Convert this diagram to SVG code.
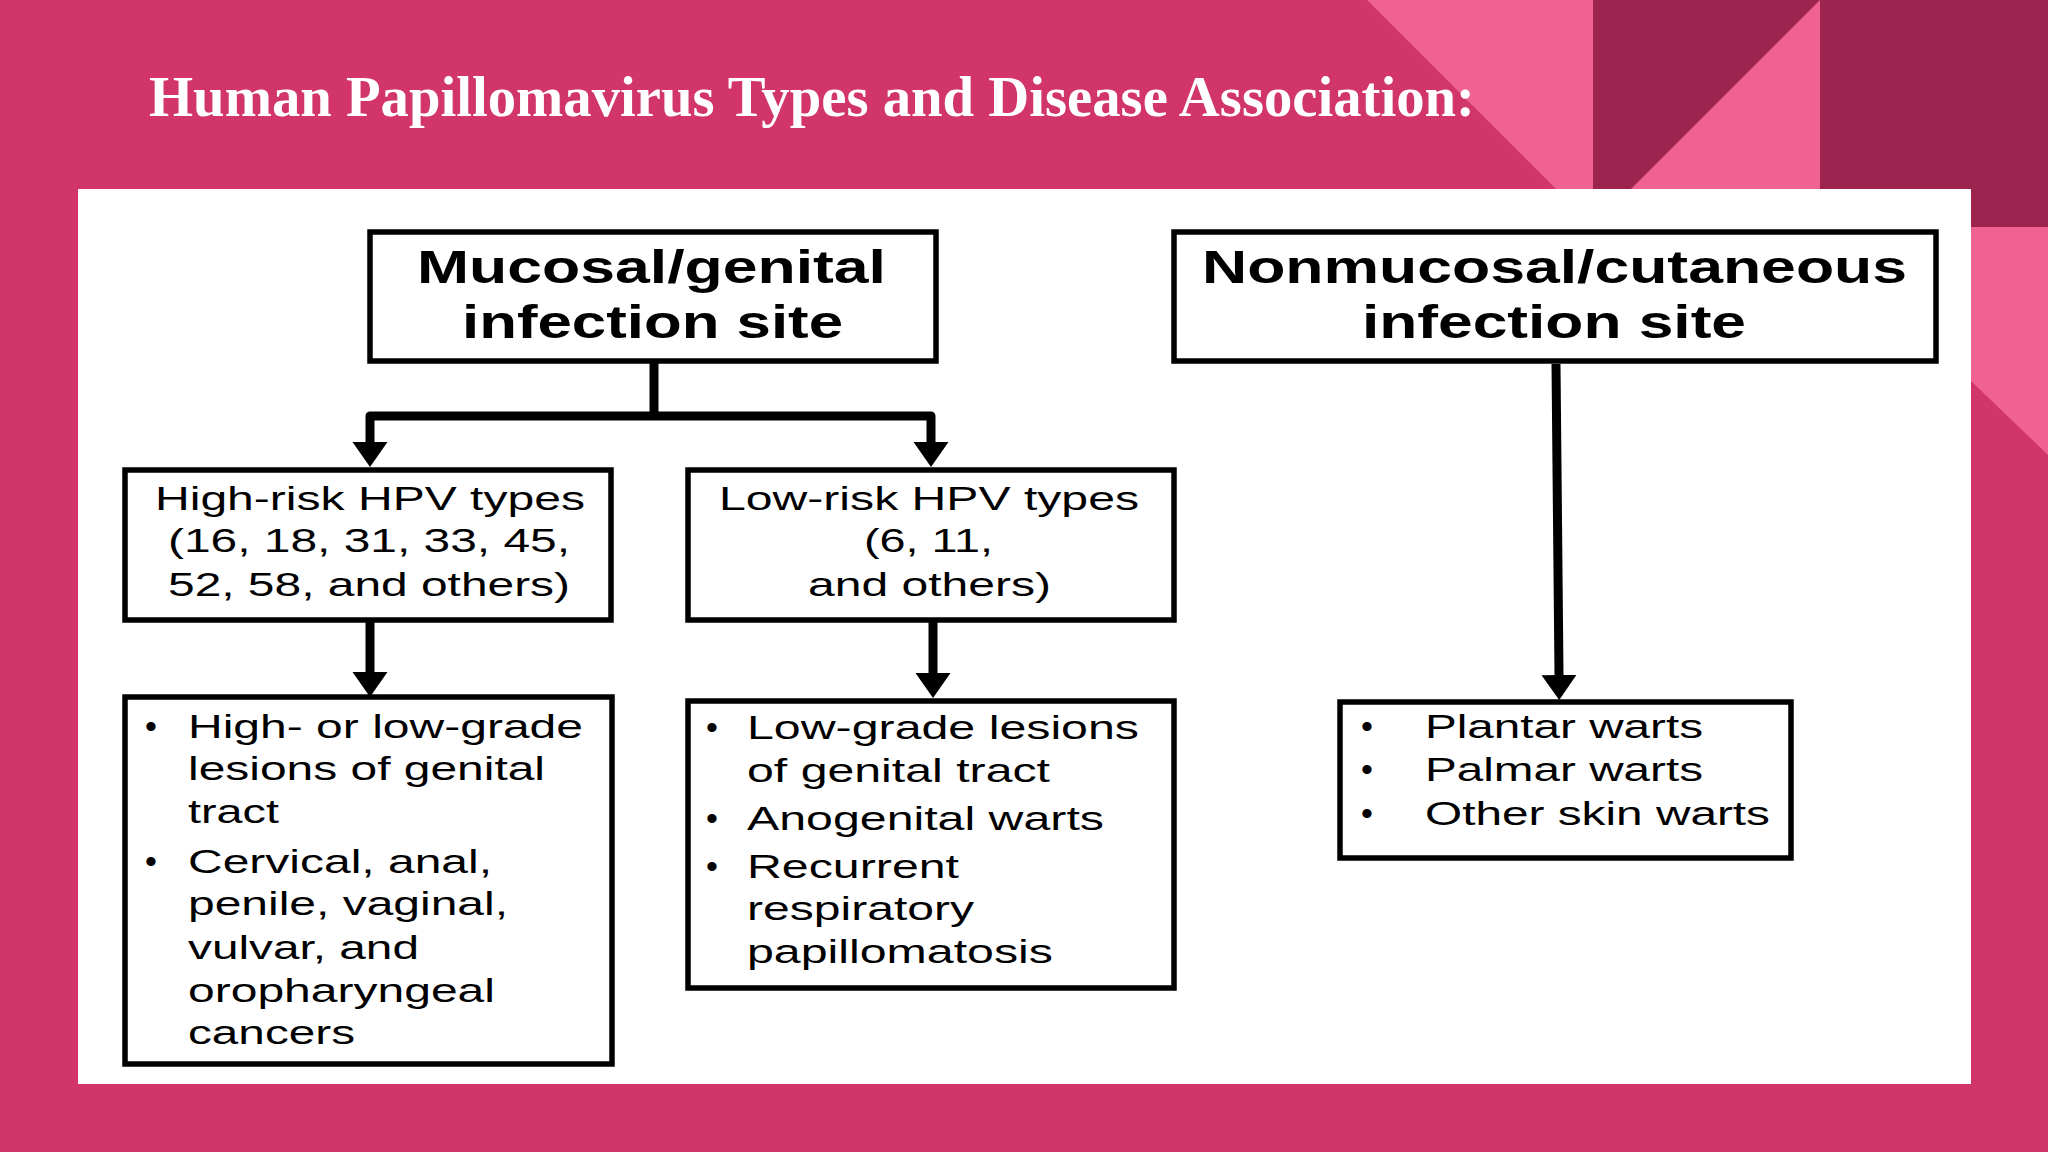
<svg xmlns="http://www.w3.org/2000/svg" width="2048" height="1152" viewBox="0 0 2048 1152">
<defs>
<style>
.box{fill:#fff;stroke:#000;stroke-width:5.5}
.hd{font-family:"Liberation Sans",Arial,sans-serif;font-weight:bold;font-size:47px;fill:#000}
.tx{font-family:"Liberation Sans",Arial,sans-serif;font-size:33px;fill:#000}
.bt{font-family:"Liberation Sans",Arial,sans-serif;font-size:34px;fill:#000}
.bu{font-family:"Liberation Sans",Arial,sans-serif;font-size:34px;fill:#000;text-anchor:middle}
.con{fill:none;stroke:#000;stroke-width:9;stroke-linejoin:round}
</style>
<marker id="ah" markerUnits="userSpaceOnUse" markerWidth="26" markerHeight="36" refX="0" refY="17.5" orient="auto-start-reverse" viewBox="0 0 26 36">
<path d="M0,0 L25,17.5 L0,35 z" fill="#000"/>
</marker>
</defs>
<g id="background">
<rect x="0" y="0" width="2048" height="1152" fill="#D1356A"/>
<polygon points="1367,0 1593,0 1593,189 1556,189" fill="#F06292"/>
<polygon points="1593,0 2048,0 2048,227 1593,227" fill="#9E2450"/>
<polygon points="1820,0 1820,240 1580,240" fill="#F06292"/>
<polygon points="1971,227 2048,227 2048,455 1971,381" fill="#F06292"/>
<rect x="78" y="189" width="1893" height="895" fill="#fff"/>
</g>
<text id="title" x="149" y="116" font-family="'Liberation Serif','Times New Roman',serif" font-weight="bold" font-size="58" fill="#fff" textLength="1326" lengthAdjust="spacingAndGlyphs">Human Papillomavirus Types and Disease Association:</text>
<g id="connectors">
<path class="con" d="M654,361 V416"/>
<path class="con" d="M370,442 V416 H931 V442" marker-start="url(#ah)" marker-end="url(#ah)"/>
<path class="con" d="M370,622 V672" marker-end="url(#ah)"/>
<path class="con" d="M933,622 V673" marker-end="url(#ah)"/>
<path class="con" d="M1556,364 L1559,675" marker-end="url(#ah)"/>
</g>
<g id="mucosal">
<rect class="box" x="370" y="232" width="566" height="129"/>
<text class="hd" x="417" y="283" textLength="469" lengthAdjust="spacingAndGlyphs">Mucosal/genital</text>
<text class="hd" x="462" y="338" textLength="381" lengthAdjust="spacingAndGlyphs">infection site</text>
</g>
<g id="nonmucosal">
<rect class="box" x="1174" y="232" width="762" height="129"/>
<text class="hd" x="1202" y="283" textLength="705" lengthAdjust="spacingAndGlyphs">Nonmucosal/cutaneous</text>
<text class="hd" x="1362" y="338" textLength="384" lengthAdjust="spacingAndGlyphs">infection site</text>
</g>
<g id="high-risk">
<rect class="box" x="125" y="470" width="486" height="150"/>
<text class="tx" x="155" y="510" textLength="430" lengthAdjust="spacingAndGlyphs">High-risk HPV types</text>
<text class="tx" x="168" y="552" textLength="402" lengthAdjust="spacingAndGlyphs">(16, 18, 31, 33, 45,</text>
<text class="tx" x="168" y="596" textLength="402" lengthAdjust="spacingAndGlyphs">52, 58, and others)</text>
</g>
<g id="low-risk">
<rect class="box" x="688" y="470" width="486" height="150"/>
<text class="tx" x="719" y="510" textLength="420" lengthAdjust="spacingAndGlyphs">Low-risk HPV types</text>
<text class="tx" x="864" y="552" textLength="129" lengthAdjust="spacingAndGlyphs">(6, 11,</text>
<text class="tx" x="808" y="596" textLength="243" lengthAdjust="spacingAndGlyphs">and others)</text>
</g>
<g id="high-risk-diseases">
<rect class="box" x="125" y="697" width="487" height="367"/>
<text class="bu" x="151" y="738">•</text>
<text class="bt" x="188" y="738" textLength="395" lengthAdjust="spacingAndGlyphs">High- or low-grade</text>
<text class="bt" x="188" y="780" textLength="357" lengthAdjust="spacingAndGlyphs">lesions of genital</text>
<text class="bt" x="188" y="823" textLength="91" lengthAdjust="spacingAndGlyphs">tract</text>
<text class="bu" x="151" y="873">•</text>
<text class="bt" x="188" y="873" textLength="304" lengthAdjust="spacingAndGlyphs">Cervical, anal,</text>
<text class="bt" x="188" y="915" textLength="320" lengthAdjust="spacingAndGlyphs">penile, vaginal,</text>
<text class="bt" x="188" y="959" textLength="231" lengthAdjust="spacingAndGlyphs">vulvar, and</text>
<text class="bt" x="188" y="1002" textLength="307" lengthAdjust="spacingAndGlyphs">oropharyngeal</text>
<text class="bt" x="188" y="1044" textLength="167" lengthAdjust="spacingAndGlyphs">cancers</text>
</g>
<g id="low-risk-diseases">
<rect class="box" x="688" y="701" width="486" height="287"/>
<text class="bu" x="712" y="739">•</text>
<text class="bt" x="747" y="739" textLength="392" lengthAdjust="spacingAndGlyphs">Low-grade lesions</text>
<text class="bt" x="747" y="782" textLength="303" lengthAdjust="spacingAndGlyphs">of genital tract</text>
<text class="bu" x="712" y="830">•</text>
<text class="bt" x="747" y="830" textLength="357" lengthAdjust="spacingAndGlyphs">Anogenital warts</text>
<text class="bu" x="712" y="878">•</text>
<text class="bt" x="747" y="878" textLength="212" lengthAdjust="spacingAndGlyphs">Recurrent</text>
<text class="bt" x="747" y="920" textLength="227" lengthAdjust="spacingAndGlyphs">respiratory</text>
<text class="bt" x="747" y="963" textLength="306" lengthAdjust="spacingAndGlyphs">papillomatosis</text>
</g>
<g id="cutaneous-diseases">
<rect class="box" x="1340" y="702" width="451" height="156"/>
<text class="bu" x="1367" y="738">•</text>
<text class="bt" x="1425" y="738" textLength="278" lengthAdjust="spacingAndGlyphs">Plantar warts</text>
<text class="bu" x="1367" y="781">•</text>
<text class="bt" x="1425" y="781" textLength="278" lengthAdjust="spacingAndGlyphs">Palmar warts</text>
<text class="bu" x="1367" y="825">•</text>
<text class="bt" x="1425" y="825" textLength="345" lengthAdjust="spacingAndGlyphs">Other skin warts</text>
</g>
</svg>
